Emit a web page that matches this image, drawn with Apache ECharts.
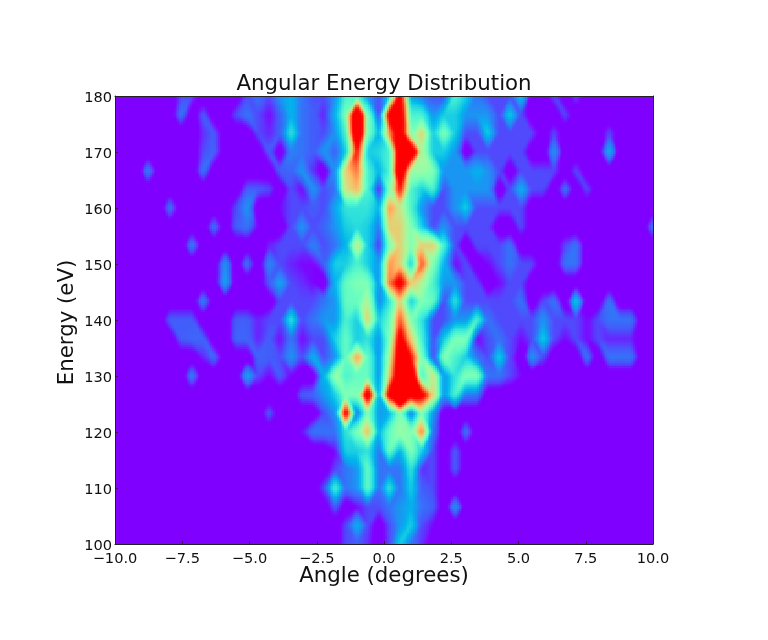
<!DOCTYPE html>
<html><head><meta charset="utf-8">
<script src="https://cdn.jsdelivr.net/npm/echarts@6/dist/echarts.min.js"></script>
<style>html,body{margin:0;background:#fff}#c{width:768px;height:640px}</style>
</head><body><div id="c"></div>
<script>
const title = 'Angular Energy Distribution';
const xName = 'Angle (degrees)';
const yName = 'Energy (eV)';
const nAngles = 50, nEnergies = 25;

const e180 = [0,0,0,0,0,0,1,1,0,0, 0,0,1,1.5,1,2,2.5,1.5,1,1, 2,4,4,2,1,3,11,2,1.5,1, 1,4,3,1.5,1,1,1,3,0,0, 1,0,1,0,0,0,0,0,0,0];
const e177 = [0,0,0,0,0,0,1.5,0,1.2,0, 0,1,1.5,1,.5,1.2,2.5,1.5,1.2,.7, 2.5,5,14,5,1,11,12,4,4,2, 3,3,2,2,2,1,3,1,0,0, 0,1,0,0,0,0,0,0,0,0];
const e173 = [0,0,0,0,0,0,0,0,.8,1.2, 0,0,0,1,.7,1.2,3.5,1.5,1.2,1, 2,4,14,5,2.5,8,12,5,7,3, 5,3,1,1,3,1,1,1,1,0, 1,0,0,0,0,1,0,0,0,0];
const e170 = [0,0,0,0,0,0,0,0,1,1.3, 0,0,0,0,1.2,0,1.7,1.5,1.2,2, 1.2,3,10,3,3.2,4,12,13,6,3, 3,2,0,1,1,1,1,1,0,0, 2,0,0,0,0,2.5,0,0,0,0];
const e167 = [0,0,0,1.7,0,0,0,0,1.5,0, 0,0,0,0,0,1.2,1.3,2,.8,0, 2,7,8.5,4,2.5,4,13,5.5,5.5,5, 2,2,2,2.5,2,1,0,1,1,1, 1,0,1,0,0,0,0,0,0,0];
const e163 = [0,0,0,0,0,0,0,0,0,0, 0,0,1.2,1.2,1,0,1,.5,2,1, 1.5,6.5,7.5,4,.5,5,10,4,3,4, 1,2,2,2,2,0,1,2.5,1,1, 0,1.5,0,1,0,0,0,0,0,0];
const e160 = [0,0,0,0,0,1.5,0,0,0,0, 0,1,2,0,0,.5,1,1,1.2,1, 2.3,3.5,3.5,3.5,2.5,8,6.5,4,2,1, 1,2,3,1,1,1,1,1,0,0, 0,0,0,0,0,0,0,0,0,0];
const e157 = [0,0,0,0,0,0,0,0,0,1.5, 0,1.2,1.5,.5,0,0,1,2,1,1.3, 2,3,3.3,3,1.5,7,7,5,3,1, 2,1,1,1,1,0,0,1,0,0, 0,0,0,0,0,0,0,0,0,1.5];
const e153 = [0,0,0,0,0,0,0,1.7,0,0, 0,0,0,0,.7,1,1,1,1.7,1, 1.5,2.5,6.5,3,.7,5,7,5,7,7, 4,1,0,1,1,1,1.5,0,0,0, 0,1,1.5,0,0,0,0,0,0,0];
const e150 = [0,0,0,0,0,0,0,0,0,0, 2,0,1.5,0,1.8,1,.7,.5,.5,1.2, 3,3,4,3,2,8,7,3,9,5, 2.5,.5,1,0,.5,1,1.5,1,1,0, 0,1.5,1.5,0,0,0,0,0,0,0];
const e147 = [0,0,0,0,0,0,0,0,0,0, 2.3,0,0,0,1.2,2.3,1,.8,.5,0, 2.5,4.5,5,5,2,8.5,11,7,6,4, 2,2,1,1,0,.5,1,1,0,0, 0,0,0,0,0,0,0,0,0,0];
const e143 = [0,0,0,0,0,0,0,0,1.7,0, 0,0,0,0,0,1,1,1,1,1.5, 2,4.5,4.5,6,1.7,3.5,7,3,5,4.5, 1,3.5,1,1,1,1,1,1.5,0,1, 1.5,0,3,0,0,1.5,0,0,0,0];
const e140 = [0,0,0,0,0,1.2,1.2,1.2,0,0, 0,1.2,1.2,.7,1,1,3.5,1,1.5,2, 2,4,3,7,3,4.5,9,5,3.5,1, 1,2,2,4,1.5,1,1,1,1,2, 1,1,1,.5,1,1.5,1.5,1.5,0,0];
const e137 = [0,0,0,0,0,0,1.2,1.3,1.3,0, 0,1.3,1.3,.7,1.2,.5,1.5,.5,1,1, 3,4.5,3,3.5,2,5,11,7,4,1, 3,5,5,.5,1,1.5,1,.5,1,3, 1,.5,1,.5,1,.7,.7,.7,0,0];
const e133 = [0,0,0,0,0,0,0,0,.7,1.4, 0,0,0,1.3,1.2,1,2,1,2.5,1, 2,4.5,8,4.5,2,6,12,10,5,1, 5,4,3,1.5,1,3,1,0,2,1, 0,0,0,1.5,0,1.5,1.5,1.5,0,0];
const e130 = [0,0,0,0,0,0,0,1.7,0,0, 0,0,2.3,1,.5,1.2,.5,0,0,2.5, 5.5,4,4.5,4.5,2,7,13,13,4,6.5, 2,3.5,5,5,1.5,1.5,1,.5,0,0, 0,0,0,0,0,0,0,0,0,0];
const e127 = [0,0,0,0,0,0,0,0,0,0, 0,0,0,0,0,0,0,1.2,1.3,2, 3,5,5,12,2.5,11,18,11,11,7, 2,4,1.5,1.5,0,0,0,0,0,0, 0,0,0,0,0,0,0,0,0,0];
const e123 = [0,0,0,0,0,0,0,0,0,0, 0,0,0,0,1.2,0,0,0,0,1, 2,11,1.5,5,2,2.5,5,1.5,5,2, 0,0,0,0,0,0,0,0,0,0, 0,0,0,0,0,0,0,0,0,0];
const e120 = [0,0,0,0,0,0,0,0,0,0, 0,0,0,0,0,0,0,.6,1.5,1.5, 1.5,3.5,5,7.5,2.5,4.5,5.5,5,8.5,1.5, 0,0,1.5,0,0,0,0,0,0,0, 0,0,0,0,0,0,0,0,0,0];
const e117 = [0,0,0,0,0,0,0,0,0,0, 0,0,0,0,0,0,0,0,0,0, .5,3,3,3.5,1.5,4.5,2.5,5,3,1, 0,1.2,0,0,0,0,0,0,0,0, 0,0,0,0,0,0,0,0,0,0];
const e113 = [0,0,0,0,0,0,0,0,0,0, 0,0,0,0,0,0,0,0,0,0, 1,1.5,2,4.5,1.5,1.5,1.5,3.5,.8,1, 0,1.2,0,0,0,0,0,0,0,0, 0,0,0,0,0,0,0,0,0,0];
const e110 = [0,0,0,0,0,0,0,0,0,0, 0,0,0,0,0,0,0,0,0,1, 4,1.5,2,4.5,1.5,3.5,1.5,3,1.2,1, 0,0,0,0,0,0,0,0,0,0, 0,0,0,0,0,0,0,0,0,0];
const e107 = [0,0,0,0,0,0,0,0,0,0, 0,0,0,0,0,0,0,0,0,0, 1.2,0,.5,1,1,1.5,2,2.5,1.5,1.2, 0,2,0,0,0,0,0,0,0,0, 0,0,0,0,0,0,0,0,0,0];
const e103 = [0,0,0,0,0,0,0,0,0,0, 0,0,0,0,0,0,0,0,0,0, 0,1,2.5,1,0,1,2,3,1,.5, 0,0,0,0,0,0,0,0,0,0, 0,0,0,0,0,0,0,0,0,0];
const e100 = [0,0,0,0,0,0,0,0,0,0, 0,0,0,0,0,0,0,0,0,0, 0,1,1.2,.8,0,1,3,1.5,.8,0, 0,0,0,0,0,0,0,0,0,0, 0,0,0,0,0,0,0,0,0,0];

const rows = [e100,e103,e107,e110,e113,e117,e120,e123,e127,e130,e133,e137,e140,e143,e147,e150,e153,e157,e160,e163,e167,e170,e173,e177,e180];
const dx = 20/(nAngles-1), dy = 80/(nEnergies-1);

const cells = [];
for (let j=0;j<nEnergies-1;j++) for (let i=0;i<nAngles-1;i++) {
  cells.push([-10+i*dx, 100+j*dy, rows[j][i], rows[j][i+1], rows[j+1][i], rows[j+1][i+1]]);
}

function rainbowRGB(v){
  let t = v<0.45 ? 0 : v<1.1 ? (v-0.45)/0.65*0.11 : v/10;
  if (t>1) t=1;
  return [Math.min(1,Math.abs(2*t-0.5))*255, Math.sin(Math.PI*t)*255, Math.cos(Math.PI*t/2)*255];
}
// a:(0,0) b:(1,0) c:(0,1) d:(1,1); the corner furthest from the mean is split off
function shade(u,v,a,b,c,d){
  const m=(a+b+c+d)/4;
  if (Math.max(Math.abs(a-m),Math.abs(d-m)) >= Math.max(Math.abs(b-m),Math.abs(c-m))) {
    if (u+v<=1) return a+(b-a)*u+(c-a)*v;
    return d+(c-d)*(1-u)+(b-d)*(1-v);
  }
  if (u>=v) return a+(b-a)*u+(d-b)*v;
  return a+(c-a)*v+(d-c)*u;
}
function fieldAt(fi,fj){
  const i=Math.max(0,Math.min(nAngles-2,Math.floor(fi))), j=Math.max(0,Math.min(nEnergies-2,Math.floor(fj)));
  return shade(Math.max(0,Math.min(1,fi-i)),Math.max(0,Math.min(1,fj-j)),rows[j][i],rows[j][i+1],rows[j+1][i],rows[j+1][i+1]);
}
const blurOffsets=[[0,0,2],[-1.6,0,1],[1.6,0,1],[0,-1.6,1],[0,1.6,1]];
function blurred(fi,fj,pxX,pxY){
  let r=0,g=0,b=0,w=0;
  for(const o of blurOffsets){
    const c=rainbowRGB(fieldAt(fi+o[0]/pxX,fj+o[1]/pxY));
    r+=c[0]*o[2];g+=c[1]*o[2];b+=c[2]*o[2];w+=o[2];
  }
  return 'rgb('+Math.round(r/w)+','+Math.round(g/w)+','+Math.round(b/w)+')';
}
function renderCell(params, api){
  const x=api.value(0), y=api.value(1), a=api.value(2), b=api.value(3), c=api.value(4), d=api.value(5);
  const p0=api.coord([x,y]), p1=api.coord([x+dx,y+dy]);
  const L=Math.round(p0[0]), R=Math.round(p1[0]), B=Math.round(p0[1]), T=Math.round(p1[1]);
  if (a===0&&b===0&&c===0&&d===0) {
    const q=rainbowRGB(0);
    return {type:'rect',shape:{x:L,y:T,width:R-L,height:B-T},style:{fill:'rgb('+q.map(Math.round).join(',')+')'},silent:true};
  }
  const fi0=(x+10)/dx, fj0=(y-100)/dy, pxX=p1[0]-p0[0], pxY=p0[1]-p1[1];
  const children=[];
  const nx=Math.max(1,Math.round((R-L)/2)), ny=Math.max(1,Math.round((B-T)/2));
  for(let m=0;m<nx;m++) for(let n=0;n<ny;n++){
    const xa=L+Math.round((R-L)*m/nx), xb=L+Math.round((R-L)*(m+1)/nx);
    const ya=B-Math.round((B-T)*(n+1)/ny), yb=B-Math.round((B-T)*n/ny);
    children.push({type:'rect',shape:{x:xa,y:ya,width:xb-xa,height:yb-ya},
      style:{fill:blurred(fi0+(m+.5)/nx,fj0+(n+.5)/ny,pxX,pxY)},silent:true});
  }
  return {type:'group',children};
}
const fontFamily='"DejaVu Sans"';
const tickStyle={show:true,inside:true,length:3,lineStyle:{color:'#222',width:0.8}};
const chart=echarts.init(document.getElementById('c'),null,{renderer:'canvas'});
chart.setOption({
  animation:false,
  backgroundColor:'#fff',
  title:{text:title,left:'center',top:74,padding:0,textStyle:{fontFamily,fontSize:21.3,fontWeight:'normal',color:'#111'}},
  grid:{left:115,right:115,top:96,bottom:96,containLabel:false},
  xAxis:[{type:'value',min:-10,max:10,interval:2.5,z:10,
    name:xName,nameLocation:'middle',nameGap:22,nameMoveOverlap:false,nameTextStyle:{fontFamily,fontSize:21.3,color:'#111'},
    axisLine:{show:true,onZero:false,lineStyle:{color:'#222',width:1}},axisTick:tickStyle,splitLine:{show:false},
    axisLabel:{fontFamily,fontSize:14.6,color:'#111',margin:8,showMinLabel:true,showMaxLabel:true,hideOverlap:false,
      formatter:v=>(v<0?'\u2212':'')+Math.abs(v).toFixed(1)}},
    {type:'value',position:'top',min:-10,max:10,z:10,axisLine:{show:true,onZero:false,lineStyle:{color:'#222',width:1}},axisTick:{show:false},axisLabel:{show:false},splitLine:{show:false}}],
  yAxis:[{type:'value',min:100,max:180,interval:10,z:10,
    name:yName,nameLocation:'middle',nameGap:37,nameMoveOverlap:false,nameTextStyle:{fontFamily,fontSize:21.3,color:'#111',padding:[0,5,0,0]},
    axisLine:{show:true,onZero:false,lineStyle:{color:'#222',width:1}},axisTick:tickStyle,splitLine:{show:false},
    axisLabel:{margin:3,showMinLabel:true,showMaxLabel:true,hideOverlap:false,formatter:v=>'{t|'+v+'}',
      rich:{t:{fontFamily,fontSize:14.6,color:'#111',padding:[4,0,0,0]}}}},
    {type:'value',position:'right',min:100,max:180,z:10,axisLine:{show:true,onZero:false,lineStyle:{color:'#222',width:1}},axisTick:{show:false},axisLabel:{show:false},splitLine:{show:false}}],
  series:[{type:'custom',coordinateSystem:'cartesian2d',xAxisIndex:0,yAxisIndex:0,data:cells,
    encode:{x:0,y:1},renderItem:renderCell,clip:true,silent:true,progressive:0,animation:false}]
});
</script></body></html>
